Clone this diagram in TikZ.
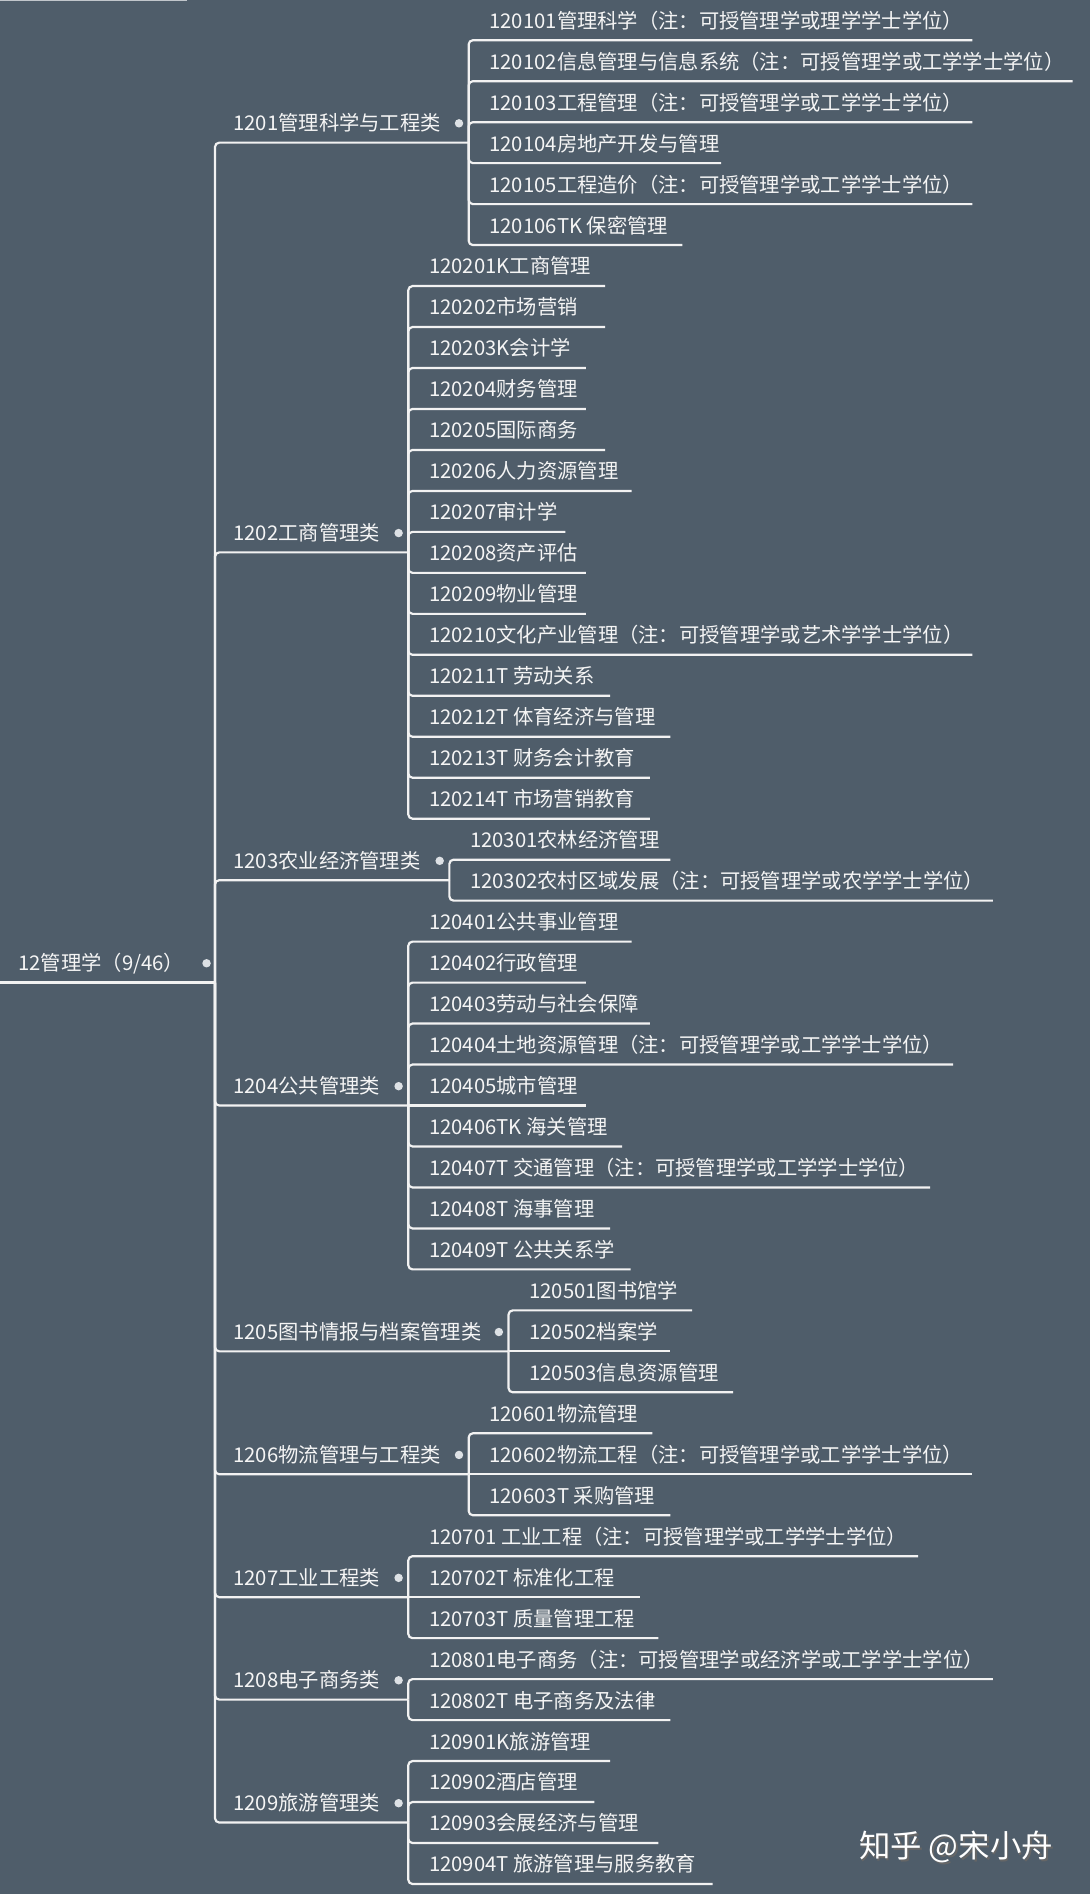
\documentclass[tikz,border=0pt]{standalone}
\usepackage{fontspec}
\setmainfont{Noto Sans CJK SC}
\definecolor{bg}{HTML}{4F5D6A}
\definecolor{ln}{HTML}{F2F2F2}
\definecolor{tx}{HTML}{F5F5F5}
\definecolor{dotc}{HTML}{DDE1E5}
\tikzset{
  conn/.style={draw=ln, line width=1.8pt, rounded corners=3.5pt},
  lbl/.style={text=tx, inner sep=0pt, anchor=base west, font=\fontsize{16.8}{18}\selectfont},
  knob/.style={circle, fill=dotc, draw=none, minimum size=7pt, inner sep=0pt},
}
\newcommand\RowY[1]{33.3+33.92*(#1)}
% branch: name, vx, first row, last row, text
\newcommand\branch[5]{%
  \def\vx{#2}%
  \node[lbl] (#1) at (193,{\RowY{(#3+#4)/2}-10}) {#5};
  \coordinate (#1-a) at (178,{\RowY{(#3+#4)/2}});
  \coordinate (#1-j) at (#2,{\RowY{(#3+#4)/2}});
  \node[knob] (#1-k) at ({#2-8},{\RowY{(#3+#4)/2}-16}) {};
  \draw[conn] (root-j) -- (#1-a) -- (#1-j);
}
% leaf: parent, row, end x, text
\newcommand\leaf[4]{%
  \node[lbl] (L#2) at ({\vx+17},{\RowY{#2}-10}) {#4};
  \coordinate (L#2-a) at (\vx,{\RowY{#2}});
  \coordinate (L#2-b) at (#3,{\RowY{#2}});
  \draw[conn] (#1-j) -- (L#2-a) -- (L#2-b);
}
\newcommand\leafmid[4]{%
  \node[lbl] (L#2) at ({\vx+17},{\RowY{#2}-10}) {#4};
  \coordinate (L#2-a) at (\vx,{\RowY{#2}});
  \coordinate (L#2-b) at (#3,{\RowY{#2}});
  \draw[conn] (L#2-a) -- (L#2-b);
}
\begin{document}
\begin{tikzpicture}[x=1pt,y=-1pt]
\useasboundingbox (0,0) rectangle (902,1568);
\fill[bg] (0,0) rectangle (902,1568);
\draw[white!65!bg, line width=1.2pt] (0,0.6) -- (155,0.6);

% root
\node[lbl] (root) at (15,{813.45-10}) {12管理学（9/46）};
\coordinate (root-a) at (0,813.45);
\coordinate (root-j) at (178,813.45);
\node[knob] (root-k) at (171,797.45) {};
\draw[conn] (root-a) -- (root-j);

\branch{b1}{388}{0}{5}{1201管理科学与工程类}
\leaf{b1}{0}{805}{120101管理科学（注：可授管理学或理学学士学位）}
\leaf{b1}{1}{888}{120102信息管理与信息系统（注：可授管理学或工学学士学位）}
\leaf{b1}{2}{805}{120103工程管理（注：可授管理学或工学学士学位）}
\leaf{b1}{3}{597}{120104房地产开发与管理}
\leaf{b1}{4}{805}{120105工程造价（注：可授管理学或工学学士学位）}
\leaf{b1}{5}{565}{120106TK 保密管理}

\branch{b2}{338}{6}{19}{1202工商管理类}
\leaf{b2}{6}{501}{120201K工商管理}
\leaf{b2}{7}{501}{120202市场营销}
\leaf{b2}{8}{485}{120203K会计学}
\leaf{b2}{9}{485}{120204财务管理}
\leaf{b2}{10}{501}{120205国际商务}
\leaf{b2}{11}{523}{120206人力资源管理}
\leaf{b2}{12}{468}{120207审计学}
\leaf{b2}{13}{485}{120208资产评估}
\leaf{b2}{14}{485}{120209物业管理}
\leaf{b2}{15}{805}{120210文化产业管理（注：可授管理学或艺术学学士学位）}
\leaf{b2}{16}{505}{120211T 劳动关系}
\leaf{b2}{17}{555}{120212T 体育经济与管理}
\leaf{b2}{18}{538}{120213T 财务会计教育}
\leaf{b2}{19}{538}{120214T 市场营销教育}

\branch{b3}{372}{20}{21}{1203农业经济管理类}
\leaf{b3}{20}{555}{120301农林经济管理}
\leaf{b3}{21}{822}{120302农村区域发展（注：可授管理学或农学学士学位）}

\branch{b4}{338}{22}{30}{1204公共管理类}
\leaf{b4}{22}{523}{120401公共事业管理}
\leaf{b4}{23}{485}{120402行政管理}
\leaf{b4}{24}{538}{120403劳动与社会保障}
\leaf{b4}{25}{789}{120404土地资源管理（注：可授管理学或工学学士学位）}
\leafmid{b4}{26}{485}{120405城市管理}
\leaf{b4}{27}{515}{120406TK 海关管理}
\leaf{b4}{28}{770}{120407T 交通管理（注：可授管理学或工学学士学位）}
\leaf{b4}{29}{505}{120408T 海事管理}
\leaf{b4}{30}{522}{120409T 公共关系学}

\branch{b5}{421}{31}{33}{1205图书情报与档案管理类}
\leaf{b5}{31}{573}{120501图书馆学}
\leafmid{b5}{32}{555}{120502档案学}
\leaf{b5}{33}{607}{120503信息资源管理}

\branch{b6}{388}{34}{36}{1206物流管理与工程类}
\leaf{b6}{34}{540}{120601物流管理}
\leafmid{b6}{35}{805}{120602物流工程（注：可授管理学或工学学士学位）}
\leaf{b6}{36}{555}{120603T 采购管理}

\branch{b7}{338}{37}{39}{1207工业工程类}
\leaf{b7}{37}{760}{120701 工业工程（注：可授管理学或工学学士学位）}
\leafmid{b7}{38}{530}{120702T 标准化工程}
\leaf{b7}{39}{545}{120703T 质量管理工程}

\branch{b8}{338}{40}{41}{1208电子商务类}
\leaf{b8}{40}{822}{120801电子商务（注：可授管理学或经济学或工学学士学位）}
\leaf{b8}{41}{555}{120802T 电子商务及法律}

\branch{b9}{338}{42}{45}{1209旅游管理类}
\leaf{b9}{42}{505}{120901K旅游管理}
\leaf{b9}{43}{492}{120902酒店管理}
\leaf{b9}{44}{545}{120903会展经济与管理}
\leaf{b9}{45}{590}{120904T 旅游管理与服务教育}

% watermark
\node[text=black!60, anchor=west, inner sep=0pt, font=\fontsize{26}{28}\selectfont] (wmshadow) at (712.5,1530.5) {知乎 @宋小舟};
\node[text=white, anchor=west, inner sep=0pt, font=\fontsize{26}{28}\selectfont] (wm) at (711,1529) {知乎 @宋小舟};
\end{tikzpicture}
\end{document}
